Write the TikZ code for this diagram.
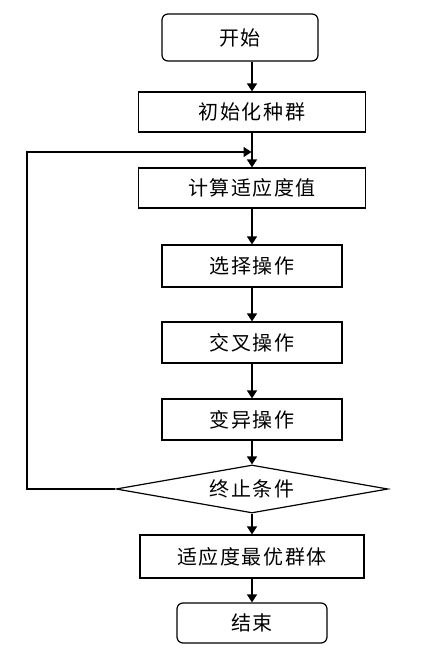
\documentclass[tikz,border=0pt]{standalone}
\usepackage{fontspec}
\setmainfont{Noto Sans CJK SC}[LetterSpace=8]
\usetikzlibrary{shapes.geometric,arrows.meta}
\tikzset{
  box/.style={draw,line width=1.2pt,inner sep=0pt,font=\fontsize{20}{20}\selectfont},
  term/.style={box,rounded corners=6pt},
  decision/.style={box,diamond,aspect=5.6},
  arr/.style={line width=1.2pt,-{Triangle[width=10pt,length=8pt]}}
}
\begin{document}
\begin{tikzpicture}[x=1pt,y=1pt]
\useasboundingbox (0,0) rectangle (423,-653);
\node[term,minimum width=156pt,minimum height=47pt] (start) at (240,-37.5) {开始};
\node[box,minimum width=227pt,minimum height=40pt] (init) at (252,-112) {初始化种群};
\node[box,minimum width=227pt,minimum height=40pt] (fit) at (252,-188) {计算适应度值};
\node[box,minimum width=180pt,minimum height=42pt] (select) at (252,-266) {选择操作};
\node[box,minimum width=180pt,minimum height=41pt] (cross) at (252,-342.5) {交叉操作};
\node[box,minimum width=180pt,minimum height=41pt] (mutate) at (252,-419.5) {变异操作};
\node[decision,minimum width=272pt,minimum height=48pt] (check) at (252,-489) {终止条件};
\node[box,minimum width=224pt,minimum height=43pt] (best) at (252,-556.5) {适应度最优群体};
\node[term,minimum width=150pt,minimum height=40pt] (stop) at (252,-623) {结束};
\coordinate (join) at (251.5,-152);

\draw[arr] (start.south -| init) -- (init);
\draw[arr] (init) -- (fit);
\draw[arr] (fit) -- (select);
\draw[arr] (select) -- (cross);
\draw[arr] (cross) -- (mutate);
\draw[arr] (mutate) -- (check);
\draw[arr] (check) -- (best);
\draw[arr] (best) -- (stop);

\draw[arr] (check.west) -- (27,-489) |- (join);
\end{tikzpicture}
\end{document}
